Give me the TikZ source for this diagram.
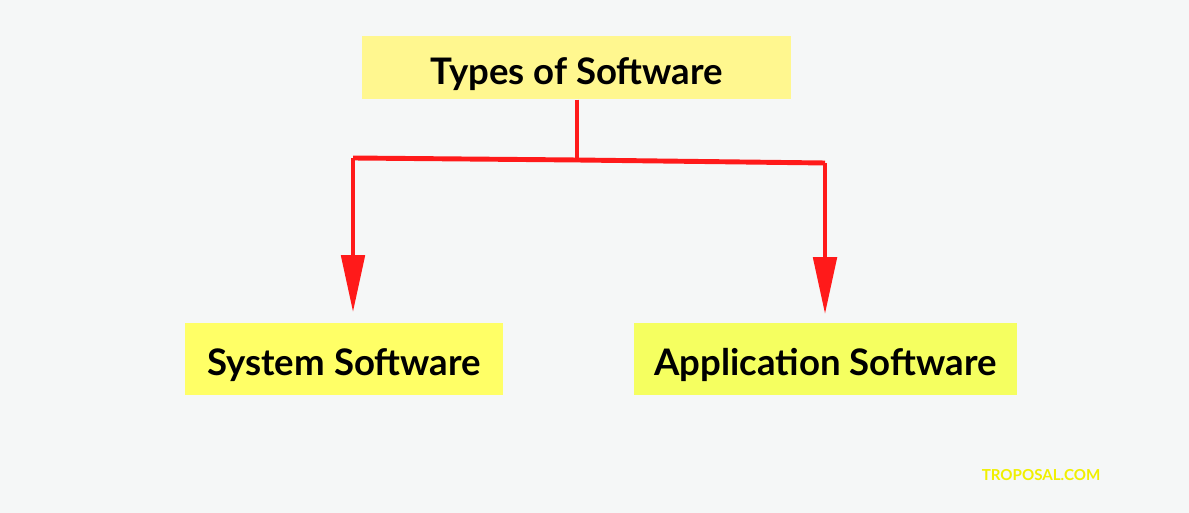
\documentclass[tikz,border=0pt]{standalone}
\usepackage{fontspec}
\setmainfont{Lato}
\usetikzlibrary{arrows.meta}
\definecolor{bgcol}{RGB}{245,247,247}
\definecolor{topfill}{RGB}{255,247,143}
\definecolor{sysfill}{RGB}{255,255,102}
\definecolor{appfill}{RGB}{245,255,96}
\definecolor{linered}{RGB}{255,26,26}
\definecolor{markyellow}{RGB}{240,240,0}
\tikzset{
  typebox/.style={fill=#1, inner sep=0pt, text height=1.05em, text depth=0.1em,
    font=\fontsize{10.4}{12}\selectfont\bfseries},
  branch/.style={draw=linered, line width=1.4pt},
  arrowline/.style={branch, -{Triangle[width=0.23cm, length=0.57cm]}},
}

\begin{document}
\begin{tikzpicture}[x=0.01cm, y=-0.01cm]
    % page and background
    \fill[bgcol] (0,0) rectangle (1189,513);
    \useasboundingbox (0,0) rectangle (1189,513);
    % the three boxes
    \node[typebox=topfill, minimum width=4.29cm, minimum height=0.63cm] (types) at (576.5,67.5) {Types of Software};
    \node[typebox=sysfill, minimum width=3.18cm, minimum height=0.72cm] (system) at (344,359) {System Software};
    \node[typebox=appfill, minimum width=3.83cm, minimum height=0.72cm] (application) at (825.5,359) {Application Software};
    % junction points
    \coordinate (mid) at (577,160);
    \coordinate (left) at (353,158);
    \coordinate (right) at (825,163);
    \draw[branch] (types.south -| mid) -- (mid);
    \draw[branch] (left) -- (mid) -- (right);
    \draw[arrowline] (left) -- ([yshift=0.1cm]system.north -| left);
    \draw[arrowline] (right) -- ([yshift=0.08cm]application.north -| right);
    % watermark
    \node[text=markyellow, font=\fontsize{4.3}{5}\selectfont\bfseries, inner sep=0pt] (mark) at (1041,475) {TROPOSAL.COM};
\end{tikzpicture}
\end{document}
